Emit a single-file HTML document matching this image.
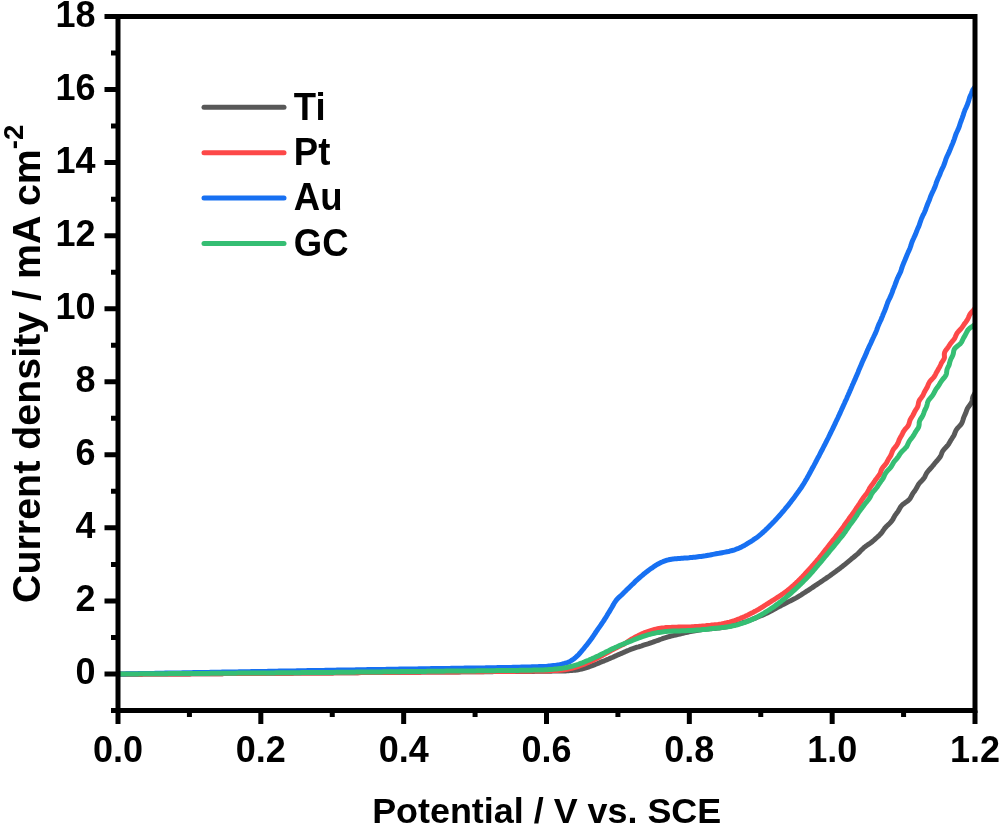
<!DOCTYPE html>
<html><head><meta charset="utf-8"><title>LSV plot</title>
<style>
html,body{margin:0;padding:0;background:#fff;}
body{width:1000px;height:830px;overflow:hidden;}
svg{display:block;}
text{font-family:"Liberation Sans",Arial,Helvetica,sans-serif;font-weight:bold;fill:#000;}
.t{font-size:36px;}
.c{fill:none;stroke-width:5;stroke-linecap:round;stroke-linejoin:round;}
.ax{stroke:#000;fill:none;}
</style></head><body>
<svg width="1000" height="830" viewBox="0 0 1000 830">
<rect width="1000" height="830" fill="#fff"/>

<defs><clipPath id="plot"><rect x="118.0" y="16.5" width="857.0" height="694.0"/></clipPath></defs>
<g class="c" clip-path="url(#plot)">
<path d="M118.0 674.3L118.8 674.3L119.6 674.3L120.5 674.3L121.3 674.3L122.3 674.3L123.3 674.3L124.3 674.3L125.3 674.3L126.4 674.2L127.5 674.2L128.6 674.2L129.8 674.2L131.0 674.2L132.3 674.2L133.5 674.2L134.8 674.2L136.1 674.2L137.5 674.2L138.9 674.2L140.3 674.2L141.7 674.2L143.1 674.1L144.6 674.1L146.1 674.1L147.6 674.1L149.2 674.1L150.7 674.1L152.3 674.1L153.9 674.1L155.5 674.1L157.1 674.1L158.7 674.1L160.4 674.0L162.1 674.0L163.7 674.0L165.4 674.0L167.1 674.0L168.8 674.0L170.6 674.0L172.3 674.0L174.0 674.0L175.8 673.9L177.5 673.9L179.3 673.9L181.0 673.9L182.8 673.9L184.5 673.9L186.3 673.9L188.1 673.9L189.8 673.9L191.6 673.8L193.4 673.8L195.1 673.8L196.9 673.8L198.6 673.8L200.4 673.8L202.1 673.8L203.9 673.8L205.6 673.8L207.3 673.7L209.0 673.7L210.7 673.7L212.4 673.7L214.1 673.7L215.7 673.7L217.4 673.7L219.0 673.7L220.6 673.7L222.3 673.7L223.8 673.6L225.4 673.6L227.0 673.6L228.5 673.6L230.0 673.6L231.5 673.6L233.0 673.6L234.6 673.6L236.1 673.6L237.6 673.5L239.1 673.5L240.7 673.5L242.2 673.5L243.7 673.5L245.3 673.5L246.8 673.5L248.3 673.5L249.8 673.5L251.4 673.5L252.9 673.4L254.4 673.4L256.0 673.4L257.5 673.4L259.0 673.4L260.6 673.4L262.1 673.4L263.6 673.4L265.1 673.4L266.7 673.3L268.2 673.3L269.7 673.3L271.3 673.3L272.8 673.3L274.3 673.3L275.8 673.3L277.4 673.3L278.9 673.3L280.4 673.2L281.9 673.2L283.5 673.2L285.0 673.2L286.5 673.2L288.0 673.2L289.5 673.2L291.1 673.2L292.6 673.2L294.1 673.1L295.6 673.1L297.1 673.1L298.6 673.1L300.1 673.1L301.6 673.1L303.1 673.1L304.6 673.1L306.1 673.1L307.6 673.0L309.1 673.0L310.6 673.0L312.1 673.0L313.6 673.0L315.1 673.0L316.6 673.0L318.1 673.0L319.6 673.0L321.0 672.9L322.5 672.9L324.0 672.9L325.5 672.9L326.9 672.9L328.4 672.9L329.9 672.9L331.3 672.9L332.8 672.9L334.2 672.8L335.7 672.8L337.1 672.8L338.6 672.8L340.0 672.8L341.6 672.8L343.2 672.8L344.8 672.8L346.4 672.8L348.0 672.7L349.6 672.7L351.2 672.7L352.8 672.7L354.5 672.7L356.1 672.7L357.7 672.7L359.3 672.6L361.0 672.6L362.6 672.6L364.2 672.6L365.8 672.6L367.5 672.6L369.1 672.6L370.7 672.6L372.3 672.5L373.9 672.5L375.6 672.5L377.2 672.5L378.8 672.5L380.4 672.5L382.0 672.5L383.6 672.5L385.2 672.4L386.8 672.4L388.4 672.4L390.0 672.4L391.6 672.4L393.1 672.4L394.7 672.4L396.3 672.3L397.8 672.3L399.4 672.3L400.9 672.3L402.4 672.3L404.0 672.3L405.5 672.3L407.0 672.3L408.5 672.2L410.0 672.2L411.5 672.2L413.0 672.2L414.4 672.2L415.9 672.2L417.3 672.2L418.8 672.2L420.2 672.2L421.6 672.1L423.0 672.1L424.4 672.1L425.8 672.1L427.1 672.1L428.5 672.1L429.8 672.1L431.1 672.1L432.4 672.1L433.7 672.0L435.0 672.0L436.3 672.0L437.5 672.0L438.8 672.0L440.0 672.0L442.0 672.0L443.9 672.0L445.8 672.0L447.7 671.9L449.6 671.9L451.4 671.9L453.1 671.9L454.9 671.9L456.6 671.9L458.3 671.9L459.9 671.9L461.6 671.8L463.2 671.8L464.8 671.8L466.3 671.8L467.8 671.8L469.3 671.8L470.8 671.8L472.3 671.8L473.8 671.8L475.2 671.8L476.6 671.8L478.0 671.7L479.4 671.7L480.7 671.7L482.1 671.7L483.4 671.7L484.7 671.7L486.0 671.7L487.3 671.7L488.6 671.7L489.9 671.7L491.2 671.7L492.5 671.7L493.7 671.6L495.0 671.6L496.2 671.6L497.5 671.6L498.7 671.6L500.0 671.6L501.9 671.6L503.8 671.6L505.6 671.6L507.5 671.5L509.2 671.5L511.0 671.5L512.7 671.5L514.4 671.5L516.1 671.5L517.8 671.5L519.4 671.5L520.9 671.5L522.5 671.4L524.0 671.4L525.5 671.4L527.0 671.4L528.4 671.4L529.8 671.4L531.2 671.4L532.5 671.4L533.9 671.4L535.1 671.3L536.4 671.3L537.6 671.3L538.8 671.3L540.0 671.3L542.2 671.3L544.3 671.3L546.2 671.2L548.0 671.2L549.6 671.2L551.1 671.2L552.6 671.1L553.9 671.1L555.2 671.1L556.5 671.1L557.7 671.1L558.8 671.0L560.0 671.0L562.2 670.9L564.1 670.9L565.6 670.9L567.0 670.8L568.4 670.7L570.0 670.6L571.7 670.5L573.3 670.3L575.0 670.2L576.7 670.0L578.3 669.7L580.0 669.4L581.7 669.0L583.3 668.6L585.0 668.1L586.7 667.6L588.3 667.1L590.0 666.5L591.4 666.0L592.9 665.4L594.3 664.9L595.7 664.3L597.1 663.7L598.6 663.1L600.0 662.5L601.4 661.9L602.9 661.3L604.3 660.8L605.7 660.2L607.1 659.6L608.6 659.0L610.0 658.4L611.4 657.8L612.9 657.2L614.3 656.5L615.7 655.9L617.1 655.3L618.6 654.6L620.0 654.0L621.4 653.4L622.9 652.7L624.3 652.1L625.7 651.5L627.1 650.9L628.6 650.3L630.0 649.7L631.4 649.2L632.9 648.7L634.3 648.2L635.7 647.7L637.1 647.2L638.6 646.8L640.0 646.3L641.7 645.8L643.5 645.2L645.2 644.7L647.0 644.2L648.6 643.7L650.0 643.2L651.6 642.6L652.9 642.2L654.2 641.7L656.0 641.0L657.2 640.6L658.6 640.1L660.1 639.5L661.6 639.0L663.2 638.4L664.9 637.9L666.5 637.4L668.0 636.9L669.5 636.5L671.0 636.1L672.5 635.7L674.0 635.4L675.5 635.0L677.0 634.7L678.5 634.3L680.0 634.0L681.5 633.6L683.0 633.3L684.5 632.9L686.0 632.6L687.5 632.3L689.0 631.9L690.5 631.6L692.0 631.3L693.5 631.0L695.0 630.7L696.5 630.5L698.0 630.2L699.5 629.9L701.0 629.7L702.5 629.5L704.0 629.3L705.5 629.1L707.0 629.0L708.4 628.9L709.9 628.8L711.4 628.7L712.9 628.6L714.4 628.5L716.0 628.3L717.5 628.1L719.0 627.9L720.5 627.7L722.0 627.5L723.6 627.2L725.2 626.9L726.8 626.7L728.4 626.3L730.0 626.0L731.5 625.7L733.0 625.3L734.5 625.0L736.0 624.6L737.6 624.2L739.1 623.8L740.6 623.3L742.1 622.9L743.6 622.4L745.0 622.0L746.5 621.5L748.1 620.9L749.6 620.4L751.1 619.8L752.5 619.2L753.9 618.7L755.3 618.1L756.7 617.5L758.0 617.0L759.6 616.3L761.1 615.7L762.6 615.1L764.0 614.5L765.4 613.8L766.8 613.2L768.2 612.5L769.6 611.8L771.0 611.1L772.4 610.3L773.7 609.6L775.1 608.8L776.4 608.0L777.8 607.3L779.2 606.6L780.6 605.9L782.0 605.1L783.3 604.4L784.7 603.7L786.1 603.0L787.5 602.3L788.9 601.6L790.2 600.9L791.6 600.2L793.0 599.5L794.4 598.8L795.7 598.1L797.1 597.3L798.5 596.5L799.9 595.6L801.3 594.8L802.6 593.9L804.0 593.0L805.4 592.1L806.8 591.2L808.2 590.3L809.6 589.4L810.9 588.5L812.3 587.6L813.7 586.6L815.0 585.7L816.4 584.8L817.8 583.9L819.1 583.0L820.5 582.1L821.9 581.2L823.2 580.3L824.6 579.3L826.0 578.4L827.4 577.4L828.8 576.5L830.2 575.5L831.5 574.5L832.9 573.5L834.3 572.5L835.7 571.5L836.9 570.6L838.1 569.7L839.3 568.8L840.5 567.9L841.7 566.9L842.9 566.0L844.1 565.1L845.3 564.1L846.5 563.1L847.7 562.1L848.9 561.1L850.1 560.1L851.3 559.1L852.6 558.1L853.9 557.0L855.1 556.0L856.4 554.9L857.7 553.8L858.9 552.7L860.0 551.5L861.0 550.4L862.1 549.4L863.1 548.4L864.0 547.5L865.5 546.4L866.8 545.5L868.0 544.7L869.2 543.9L870.5 543.0L871.8 542.0L873.1 540.9L874.3 539.9L875.6 538.7L876.9 537.5L878.1 536.4L879.3 535.3L880.5 534.1L881.5 532.9L882.4 531.7L883.2 530.5L884.0 529.4L884.7 528.3L885.7 527.2L886.8 526.0L888.1 524.8L889.5 523.5L890.7 522.3L891.8 520.9L892.8 519.6L893.5 518.1L894.3 516.7L895.1 515.3L896.1 514.0L897.0 512.7L898.0 511.4L898.8 510.2L899.4 508.9L900.1 507.7L900.8 506.6L901.7 505.5L903.1 504.2L904.7 503.1L906.2 502.0L907.8 500.9L909.3 499.5L910.2 498.4L910.9 497.1L911.6 495.8L912.3 494.4L913.1 493.1L914.1 491.8L915.0 490.5L915.9 489.1L916.7 487.8L917.4 486.4L918.1 485.1L918.9 483.8L920.0 482.5L921.3 481.2L922.7 479.8L923.8 478.4L924.7 477.1L925.3 475.8L925.9 474.5L926.6 473.1L927.5 471.8L928.6 470.5L929.8 469.2L931.1 467.8L932.2 466.6L933.2 465.3L934.2 464.1L935.2 462.8L936.3 461.5L937.5 460.2L938.6 458.9L939.6 457.7L940.4 456.5L941.0 455.2L941.5 453.9L942.0 452.5L942.6 451.2L943.6 449.9L944.7 448.6L946.0 447.2L947.3 445.8L948.4 444.5L949.2 443.1L950.0 441.8L950.7 440.4L951.6 439.1L952.4 437.8L953.3 436.4L954.1 435.0L954.7 433.5L955.2 432.2L955.8 430.8L956.7 429.3L957.8 427.9L959.2 426.4L960.5 425.0L961.6 423.5L962.3 422.0L962.8 420.5L963.2 419.1L963.7 417.6L964.3 416.1L965.0 414.7L965.7 413.1L966.2 411.6L966.8 410.0L967.4 408.6L968.2 407.2L969.3 405.7L970.4 404.2L971.4 402.6L972.0 401.1L972.3 399.7L972.5 398.3L972.8 397.1L973.2 396.1L974.6 393.6L975.6 392.0L976.2 391.0" stroke="#585858"/>
<path d="M118.0 674.3L118.8 674.3L119.6 674.3L120.5 674.3L121.3 674.3L122.3 674.3L123.3 674.3L124.3 674.3L125.3 674.3L126.4 674.2L127.5 674.2L128.6 674.2L129.8 674.2L131.0 674.2L132.3 674.2L133.5 674.2L134.8 674.2L136.1 674.2L137.5 674.2L138.9 674.2L140.3 674.2L141.7 674.2L143.1 674.1L144.6 674.1L146.1 674.1L147.6 674.1L149.2 674.1L150.7 674.1L152.3 674.1L153.9 674.1L155.5 674.1L157.1 674.1L158.7 674.1L160.4 674.0L162.1 674.0L163.7 674.0L165.4 674.0L167.1 674.0L168.8 674.0L170.6 674.0L172.3 674.0L174.0 674.0L175.8 673.9L177.5 673.9L179.3 673.9L181.0 673.9L182.8 673.9L184.5 673.9L186.3 673.9L188.1 673.9L189.8 673.9L191.6 673.8L193.4 673.8L195.1 673.8L196.9 673.8L198.6 673.8L200.4 673.8L202.1 673.8L203.9 673.8L205.6 673.8L207.3 673.7L209.0 673.7L210.7 673.7L212.4 673.7L214.1 673.7L215.7 673.7L217.4 673.7L219.0 673.7L220.6 673.7L222.3 673.7L223.8 673.6L225.4 673.6L227.0 673.6L228.5 673.6L230.0 673.6L231.5 673.6L233.0 673.6L234.6 673.6L236.1 673.6L237.6 673.5L239.1 673.5L240.7 673.5L242.2 673.5L243.7 673.5L245.3 673.5L246.8 673.5L248.3 673.5L249.8 673.5L251.4 673.5L252.9 673.4L254.4 673.4L256.0 673.4L257.5 673.4L259.0 673.4L260.6 673.4L262.1 673.4L263.6 673.4L265.1 673.4L266.7 673.3L268.2 673.3L269.7 673.3L271.3 673.3L272.8 673.3L274.3 673.3L275.8 673.3L277.4 673.3L278.9 673.3L280.4 673.2L281.9 673.2L283.5 673.2L285.0 673.2L286.5 673.2L288.0 673.2L289.5 673.2L291.1 673.2L292.6 673.2L294.1 673.1L295.6 673.1L297.1 673.1L298.6 673.1L300.1 673.1L301.6 673.1L303.1 673.1L304.6 673.1L306.1 673.1L307.6 673.0L309.1 673.0L310.6 673.0L312.1 673.0L313.6 673.0L315.1 673.0L316.6 673.0L318.1 673.0L319.6 673.0L321.0 672.9L322.5 672.9L324.0 672.9L325.5 672.9L326.9 672.9L328.4 672.9L329.9 672.9L331.3 672.9L332.8 672.9L334.2 672.8L335.7 672.8L337.1 672.8L338.6 672.8L340.0 672.8L341.6 672.8L343.2 672.8L344.8 672.8L346.4 672.8L348.0 672.7L349.6 672.7L351.2 672.7L352.8 672.7L354.5 672.7L356.1 672.7L357.7 672.7L359.3 672.7L361.0 672.6L362.6 672.6L364.2 672.6L365.8 672.6L367.5 672.6L369.1 672.6L370.7 672.6L372.3 672.5L373.9 672.5L375.6 672.5L377.2 672.5L378.8 672.5L380.4 672.5L382.0 672.5L383.6 672.5L385.2 672.4L386.8 672.4L388.4 672.4L390.0 672.4L391.6 672.4L393.1 672.4L394.7 672.4L396.3 672.4L397.8 672.3L399.4 672.3L400.9 672.3L402.4 672.3L404.0 672.3L405.5 672.3L407.0 672.3L408.5 672.3L410.0 672.2L411.5 672.2L413.0 672.2L414.4 672.2L415.9 672.2L417.3 672.2L418.8 672.2L420.2 672.2L421.6 672.1L423.0 672.1L424.4 672.1L425.8 672.1L427.1 672.1L428.5 672.1L429.8 672.1L431.1 672.1L432.4 672.1L433.7 672.1L435.0 672.0L436.3 672.0L437.5 672.0L438.8 672.0L440.0 672.0L442.0 672.0L443.9 672.0L445.8 672.0L447.7 671.9L449.6 671.9L451.4 671.9L453.1 671.9L454.9 671.9L456.6 671.9L458.3 671.9L459.9 671.8L461.6 671.8L463.2 671.8L464.8 671.8L466.3 671.8L467.8 671.8L469.3 671.8L470.8 671.8L472.3 671.7L473.8 671.7L475.2 671.7L476.6 671.7L478.0 671.7L479.4 671.7L480.7 671.7L482.1 671.7L483.4 671.7L484.7 671.6L486.0 671.6L487.3 671.6L488.6 671.6L489.9 671.6L491.2 671.6L492.5 671.6L493.7 671.6L495.0 671.5L496.2 671.5L497.5 671.5L498.7 671.5L500.0 671.5L501.9 671.5L503.8 671.5L505.6 671.4L507.5 671.4L509.2 671.4L511.0 671.4L512.7 671.4L514.4 671.4L516.1 671.3L517.8 671.3L519.4 671.3L520.9 671.3L522.5 671.3L524.0 671.3L525.5 671.2L527.0 671.2L528.4 671.2L529.8 671.2L531.2 671.2L532.5 671.1L533.9 671.1L535.1 671.1L536.4 671.1L537.6 671.0L538.8 671.0L540.0 671.0L542.2 671.0L544.3 670.9L546.2 670.9L548.0 670.8L549.6 670.8L551.1 670.7L552.6 670.6L553.9 670.6L555.2 670.5L556.5 670.4L557.7 670.4L558.8 670.3L560.0 670.2L562.2 670.0L564.1 669.8L565.6 669.5L567.0 669.3L568.4 669.0L570.0 668.6L571.7 668.2L573.3 667.8L575.0 667.3L576.7 666.8L578.3 666.3L580.0 665.7L581.4 665.2L582.9 664.7L584.3 664.1L585.7 663.5L587.1 662.9L588.6 662.3L590.0 661.7L591.4 661.0L592.9 660.4L594.3 659.7L595.7 658.9L597.1 658.2L598.6 657.4L600.0 656.7L601.4 655.9L602.9 655.2L604.3 654.4L605.7 653.6L607.1 652.8L608.6 652.0L610.0 651.2L611.5 650.4L613.0 649.6L614.5 648.8L616.0 648.1L617.4 647.3L618.8 646.6L620.0 646.0L621.8 645.1L623.2 644.4L624.6 643.7L626.0 642.9L627.5 641.9L629.0 640.9L630.5 639.9L632.0 638.9L633.5 638.1L635.0 637.3L636.5 636.5L638.0 635.8L639.5 635.0L641.0 634.3L642.5 633.6L644.0 632.9L645.5 632.3L647.0 631.8L648.5 631.3L650.0 630.8L651.5 630.3L653.0 629.9L654.5 629.5L656.0 629.1L657.5 628.8L659.0 628.5L660.5 628.3L662.0 628.1L663.4 627.9L664.6 627.8L666.1 627.6L668.0 627.5L669.2 627.4L670.6 627.4L672.1 627.3L673.6 627.3L675.2 627.2L676.9 627.2L678.5 627.1L680.0 627.1L681.5 627.1L683.0 627.0L684.5 627.0L686.0 627.0L687.5 627.0L689.0 626.9L690.5 626.9L692.0 626.8L693.5 626.7L695.0 626.6L696.5 626.5L698.0 626.4L699.5 626.3L701.0 626.2L702.5 626.0L704.0 625.9L705.6 625.8L707.2 625.6L708.9 625.4L710.5 625.3L712.1 625.1L713.6 625.0L714.9 624.8L716.0 624.7L718.1 624.5L720.0 624.1L721.3 623.9L722.8 623.6L724.4 623.3L726.2 622.9L727.9 622.5L729.6 622.1L731.2 621.6L732.8 621.1L734.5 620.6L736.1 620.0L737.7 619.4L739.3 618.8L740.7 618.2L742.0 617.7L743.4 617.1L744.8 616.5L746.2 615.8L747.5 615.2L748.9 614.5L750.3 613.8L751.7 613.1L753.1 612.4L754.4 611.6L755.8 610.9L757.2 610.1L758.6 609.3L760.0 608.5L761.4 607.6L762.7 606.8L764.1 605.9L765.5 605.0L766.8 604.2L768.2 603.3L769.6 602.4L770.9 601.6L772.3 600.7L773.7 599.9L775.0 599.0L776.4 598.1L777.8 597.2L779.2 596.3L780.6 595.4L781.9 594.4L783.3 593.5L784.7 592.5L786.1 591.5L787.5 590.4L788.7 589.4L790.0 588.4L791.2 587.3L792.5 586.2L793.8 585.1L795.1 583.9L796.3 582.7L797.6 581.5L798.7 580.4L799.9 579.3L801.0 578.1L802.2 576.9L803.3 575.7L804.5 574.5L805.6 573.3L806.8 572.0L807.9 570.8L808.9 569.7L810.0 568.5L811.0 567.4L812.0 566.2L813.1 565.0L814.1 563.8L815.1 562.6L816.2 561.4L817.2 560.2L818.2 559.0L819.2 557.8L820.2 556.5L821.2 555.3L822.2 554.1L823.2 552.8L824.2 551.5L825.1 550.3L826.1 549.0L827.1 547.8L828.1 546.5L829.1 545.2L830.2 543.9L831.2 542.5L832.3 541.2L833.3 539.8L834.4 538.5L835.4 537.3L836.3 536.1L837.1 535.0L837.9 534.0L839.4 532.1L840.4 530.8L841.3 529.6L842.3 528.2L843.1 527.1L844.0 525.9L844.8 524.6L845.8 523.3L846.7 522.0L847.7 520.6L848.6 519.3L849.5 518.0L850.5 516.6L851.6 515.2L852.6 513.8L853.7 512.4L854.6 511.0L855.5 509.7L856.3 508.4L857.1 507.1L858.0 505.8L858.8 504.6L859.7 503.3L860.5 502.0L861.4 500.7L862.2 499.4L863.1 498.1L864.1 496.8L865.1 495.5L866.2 494.3L867.1 493.0L867.8 491.7L868.5 490.5L869.1 489.3L869.8 488.0L870.6 486.8L871.5 485.6L872.5 484.3L873.4 483.0L874.3 481.8L875.1 480.5L876.0 479.2L877.0 477.9L878.0 476.6L879.0 475.3L879.9 473.9L880.5 472.6L880.9 471.2L881.4 469.8L882.2 468.4L883.2 466.9L884.5 465.5L885.5 464.2L886.4 463.0L887.1 461.7L887.8 460.4L888.5 459.1L889.3 457.8L890.2 456.5L890.9 455.2L891.5 453.7L892.0 452.3L892.6 450.9L893.4 449.4L894.5 448.0L895.8 446.5L896.9 445.0L897.7 443.6L898.3 442.3L898.8 440.9L899.3 439.4L900.1 438.0L900.9 436.6L901.7 435.2L902.4 433.8L903.0 432.4L903.8 431.1L904.8 429.7L905.9 428.4L907.1 427.1L908.1 425.7L908.8 424.4L909.2 423.0L909.6 421.6L910.0 420.2L910.7 418.8L911.6 417.4L912.5 416.0L913.3 414.6L914.0 413.2L914.6 411.8L915.4 410.4L916.3 409.0L917.2 407.6L917.8 406.2L918.2 404.8L918.4 403.3L918.7 401.9L919.3 400.5L920.3 399.0L921.4 397.6L922.5 396.1L923.3 394.6L923.9 393.1L924.6 391.7L925.4 390.2L926.2 388.9L927.1 387.4L927.7 386.1L928.2 384.7L928.8 383.4L929.5 382.1L930.5 380.8L931.7 379.5L933.0 378.1L934.1 376.8L935.0 375.4L935.7 374.1L936.3 372.7L937.1 371.4L937.9 370.0L938.7 368.6L939.5 367.2L940.2 365.8L940.8 364.5L941.4 363.1L942.2 361.8L943.1 360.5L944.1 358.8L944.5 357.3L944.4 355.8L944.3 354.2L944.6 352.5L945.2 351.2L946.1 349.9L947.2 348.5L948.2 347.1L949.2 345.6L950.2 344.1L951.4 342.5L952.4 341.2L953.6 339.9L954.6 338.5L955.3 337.0L955.9 335.6L956.5 334.2L957.3 332.8L958.4 331.5L959.6 330.2L961.0 328.7L962.2 327.2L963.1 325.9L964.0 324.5L964.9 323.2L965.9 321.9L966.9 320.5L967.8 319.0L968.5 317.5L969.1 316.0L969.8 314.5L970.9 313.0L972.1 311.7L973.2 310.5L974.7 308.7L975.6 307.1L976.1 305.9L976.5 305.0" stroke="#fd4848"/>
<path d="M118.0 674.0L118.8 674.0L119.6 674.0L120.5 674.0L121.3 673.9L122.3 673.9L123.3 673.9L124.3 673.9L125.3 673.9L126.4 673.8L127.5 673.8L128.6 673.8L129.8 673.8L131.0 673.8L132.3 673.7L133.5 673.7L134.8 673.7L136.1 673.7L137.5 673.7L138.9 673.6L140.3 673.6L141.7 673.6L143.1 673.5L144.6 673.5L146.1 673.5L147.6 673.5L149.2 673.4L150.7 673.4L152.3 673.4L153.9 673.4L155.5 673.3L157.1 673.3L158.7 673.3L160.4 673.2L162.1 673.2L163.7 673.2L165.4 673.1L167.1 673.1L168.8 673.1L170.6 673.1L172.3 673.0L174.0 673.0L175.8 673.0L177.5 672.9L179.3 672.9L181.0 672.9L182.8 672.8L184.5 672.8L186.3 672.8L188.1 672.7L189.8 672.7L191.6 672.7L193.4 672.6L195.1 672.6L196.9 672.6L198.6 672.6L200.4 672.5L202.1 672.5L203.9 672.5L205.6 672.4L207.3 672.4L209.0 672.4L210.7 672.3L212.4 672.3L214.1 672.3L215.7 672.3L217.4 672.2L219.0 672.2L220.6 672.2L222.3 672.1L223.8 672.1L225.4 672.1L227.0 672.1L228.5 672.0L230.0 672.0L231.5 672.0L233.0 671.9L234.6 671.9L236.1 671.9L237.6 671.9L239.1 671.8L240.7 671.8L242.2 671.8L243.7 671.8L245.3 671.7L246.8 671.7L248.3 671.7L249.8 671.7L251.4 671.6L252.9 671.6L254.4 671.6L256.0 671.5L257.5 671.5L259.0 671.5L260.6 671.5L262.1 671.4L263.6 671.4L265.1 671.4L266.7 671.4L268.2 671.3L269.7 671.3L271.3 671.3L272.8 671.3L274.3 671.2L275.8 671.2L277.4 671.2L278.9 671.1L280.4 671.1L281.9 671.1L283.5 671.1L285.0 671.0L286.5 671.0L288.0 671.0L289.5 671.0L291.1 670.9L292.6 670.9L294.1 670.9L295.6 670.9L297.1 670.8L298.6 670.8L300.1 670.8L301.6 670.8L303.1 670.7L304.6 670.7L306.1 670.7L307.6 670.6L309.1 670.6L310.6 670.6L312.1 670.6L313.6 670.5L315.1 670.5L316.6 670.5L318.1 670.5L319.6 670.4L321.0 670.4L322.5 670.4L324.0 670.4L325.5 670.3L326.9 670.3L328.4 670.3L329.9 670.3L331.3 670.2L332.8 670.2L334.2 670.2L335.7 670.2L337.1 670.1L338.6 670.1L340.0 670.1L341.6 670.1L343.2 670.0L344.8 670.0L346.4 670.0L348.0 670.0L349.6 669.9L351.2 669.9L352.8 669.9L354.5 669.9L356.1 669.8L357.7 669.8L359.3 669.8L361.0 669.8L362.6 669.7L364.2 669.7L365.8 669.7L367.5 669.6L369.1 669.6L370.7 669.6L372.3 669.6L373.9 669.5L375.6 669.5L377.2 669.5L378.8 669.5L380.4 669.4L382.0 669.4L383.6 669.4L385.2 669.4L386.8 669.3L388.4 669.3L390.0 669.3L391.6 669.3L393.1 669.2L394.7 669.2L396.3 669.2L397.8 669.2L399.4 669.1L400.9 669.1L402.4 669.1L404.0 669.1L405.5 669.0L407.0 669.0L408.5 669.0L410.0 669.0L411.5 668.9L413.0 668.9L414.4 668.9L415.9 668.9L417.3 668.9L418.8 668.8L420.2 668.8L421.6 668.8L423.0 668.8L424.4 668.7L425.8 668.7L427.1 668.7L428.5 668.7L429.8 668.7L431.1 668.6L432.4 668.6L433.7 668.6L435.0 668.6L436.3 668.6L437.5 668.5L438.8 668.5L440.0 668.5L442.0 668.5L443.9 668.4L445.8 668.4L447.7 668.4L449.6 668.4L451.4 668.3L453.1 668.3L454.9 668.3L456.6 668.3L458.3 668.2L459.9 668.2L461.6 668.2L463.2 668.2L464.8 668.1L466.3 668.1L467.8 668.1L469.3 668.1L470.8 668.1L472.3 668.0L473.8 668.0L475.2 668.0L476.6 668.0L478.0 668.0L479.4 667.9L480.7 667.9L482.1 667.9L483.4 667.9L484.7 667.9L486.0 667.8L487.3 667.8L488.6 667.8L489.9 667.8L491.2 667.8L492.5 667.7L493.7 667.7L495.0 667.7L496.2 667.7L497.5 667.6L498.7 667.6L500.0 667.6L501.9 667.6L503.8 667.5L505.7 667.5L507.6 667.4L509.4 667.4L511.2 667.4L513.0 667.3L514.8 667.3L516.5 667.2L518.2 667.2L519.9 667.2L521.5 667.1L523.1 667.1L524.7 667.0L526.2 667.0L527.7 667.0L529.2 666.9L530.6 666.9L531.9 666.8L533.2 666.8L534.5 666.8L535.7 666.7L536.9 666.7L538.0 666.7L539.0 666.6L540.0 666.6L543.4 666.5L545.6 666.4L546.9 666.3L547.8 666.2L548.7 666.1L550.0 666.0L551.7 665.8L553.5 665.6L555.2 665.4L557.0 665.1L558.6 664.9L560.0 664.6L561.8 664.2L563.4 663.8L564.7 663.4L566.0 663.0L568.1 662.3L570.0 661.4L571.2 660.7L572.4 659.9L573.7 659.0L575.0 658.0L576.2 656.9L577.5 655.7L578.8 654.4L580.0 653.0L581.0 651.9L582.0 650.7L583.0 649.5L584.0 648.3L585.0 647.0L586.1 645.7L587.1 644.4L588.2 643.0L589.3 641.6L590.5 640.0L591.4 638.8L592.3 637.5L593.2 636.2L594.1 634.8L595.1 633.4L596.0 631.9L597.0 630.5L597.9 629.2L598.8 627.9L599.7 626.6L600.6 625.3L601.5 624.0L602.4 622.7L603.3 621.4L604.1 620.1L605.0 618.7L605.9 617.3L606.7 616.0L607.5 614.6L608.3 613.3L609.2 611.9L610.0 610.5L610.9 609.0L611.8 607.5L612.7 605.9L613.6 604.4L614.4 602.9L615.3 601.6L616.1 600.4L617.4 598.8L618.6 597.7L619.7 596.7L621.0 595.5L622.1 594.4L623.3 593.2L624.5 592.0L625.8 590.8L627.0 589.6L628.2 588.4L629.4 587.3L630.5 586.2L631.7 585.0L633.0 583.8L634.1 582.8L635.1 581.7L636.2 580.7L637.4 579.6L638.6 578.5L640.0 577.3L641.1 576.4L642.3 575.4L643.5 574.3L644.8 573.3L646.1 572.2L647.4 571.2L648.7 570.2L650.0 569.3L651.4 568.3L652.9 567.3L654.3 566.3L655.7 565.4L657.1 564.5L658.6 563.7L660.0 563.0L661.4 562.3L662.9 561.7L664.3 561.2L665.7 560.7L667.1 560.2L668.6 559.8L670.0 559.5L671.6 559.2L673.3 558.9L674.9 558.8L676.5 558.7L678.2 558.5L680.0 558.4L681.4 558.3L682.9 558.2L684.4 558.1L685.9 558.0L687.4 557.9L689.0 557.8L690.5 557.6L692.0 557.5L693.5 557.3L695.0 557.2L696.5 557.0L698.0 556.8L699.5 556.6L701.0 556.4L702.5 556.2L704.0 556.0L705.5 555.8L707.0 555.5L708.4 555.2L709.9 555.0L711.4 554.7L712.9 554.4L714.4 554.1L716.0 553.8L717.5 553.5L719.0 553.3L720.6 553.0L722.1 552.7L723.7 552.4L725.3 552.1L726.8 551.8L728.3 551.5L729.6 551.2L731.4 550.7L733.1 550.3L734.7 549.8L736.2 549.2L737.7 548.7L739.3 548.0L740.7 547.4L742.0 546.7L743.4 545.9L744.8 545.2L746.2 544.4L747.5 543.5L748.9 542.7L750.3 541.8L751.7 541.0L753.1 540.1L754.4 539.1L755.8 538.2L757.2 537.2L758.6 536.1L759.8 535.1L761.0 534.1L762.2 533.0L763.4 532.0L764.6 530.9L765.8 529.7L767.0 528.6L768.2 527.4L769.3 526.4L770.3 525.3L771.4 524.2L772.5 523.1L773.5 522.0L774.6 520.9L775.7 519.7L776.7 518.6L777.8 517.4L778.9 516.2L780.0 515.0L781.0 513.8L782.1 512.5L783.2 511.3L784.3 510.0L785.3 508.7L786.4 507.4L787.5 506.1L788.5 504.9L789.5 503.6L790.4 502.4L791.4 501.1L792.4 499.8L793.4 498.5L794.4 497.2L795.3 495.9L796.2 494.6L797.1 493.4L798.0 492.1L798.9 491.0L799.6 489.9L800.4 488.8L801.2 487.7L802.0 486.5L802.8 485.1L803.8 483.6L804.8 481.9L805.4 480.8L806.1 479.7L806.8 478.5L807.5 477.2L808.2 475.9L809.0 474.5L809.7 473.2L810.5 471.7L811.3 470.3L812.1 468.8L812.9 467.3L813.7 465.9L814.5 464.4L815.3 462.9L816.0 461.4L816.8 460.0L817.5 458.6L818.2 457.3L819.0 455.9L819.7 454.5L820.4 453.1L821.1 451.7L821.9 450.3L822.6 448.9L823.3 447.5L824.0 446.1L824.8 444.7L825.5 443.2L826.2 441.8L826.9 440.4L827.7 438.9L828.4 437.5L829.1 436.0L829.8 434.6L830.5 433.2L831.1 431.9L831.8 430.5L832.5 429.1L833.2 427.7L833.8 426.3L834.5 424.9L835.2 423.4L835.8 422.0L836.5 420.6L837.2 419.2L837.9 417.7L838.5 416.3L839.2 414.9L839.9 413.4L840.5 412.0L841.2 410.5L841.8 409.1L842.5 407.7L843.1 406.3L843.7 404.9L844.4 403.5L845.0 402.1L845.6 400.7L846.3 399.3L846.9 397.9L847.5 396.4L848.2 395.0L848.8 393.6L849.4 392.2L850.0 390.7L850.7 389.3L851.3 387.8L851.9 386.4L852.5 384.9L853.2 383.5L853.8 382.1L854.4 380.7L855.0 379.4L855.6 378.0L856.2 376.6L856.8 375.2L857.4 373.8L858.0 372.4L858.5 371.0L859.1 369.6L859.7 368.2L860.3 366.8L860.9 365.4L861.5 364.0L862.1 362.6L862.7 361.1L863.4 359.7L864.0 358.3L864.7 356.9L865.3 355.5L865.9 354.1L866.5 352.8L867.0 351.4L867.5 350.1L868.1 348.9L868.7 347.6L869.3 346.3L869.9 345.0L870.5 343.8L871.1 342.5L871.7 341.1L872.3 339.8L872.9 338.4L873.6 337.0L874.3 335.5L875.1 333.9L875.8 332.3L876.5 330.6L877.1 328.9L877.8 327.0L878.2 325.9L878.7 324.7L879.2 323.5L879.8 322.3L880.4 321.0L881.0 319.8L881.5 318.5L882.1 317.1L882.6 315.8L883.1 314.4L883.7 313.1L884.3 311.7L884.9 310.2L885.5 308.8L886.0 307.4L886.5 305.9L887.0 304.5L887.5 303.0L888.1 301.5L888.8 300.0L889.5 298.6L890.2 297.1L890.9 295.6L891.5 294.1L892.1 292.6L892.6 291.1L893.1 289.6L893.7 288.2L894.3 286.7L894.9 285.2L895.4 283.8L896.0 282.3L896.5 280.9L897.0 279.5L897.6 278.1L898.3 276.7L898.9 275.3L899.6 273.9L900.3 272.5L900.9 271.0L901.3 269.6L901.8 268.2L902.2 266.8L902.7 265.4L903.3 264.0L903.9 262.6L904.5 261.1L905.1 259.7L905.7 258.3L906.2 256.9L906.8 255.5L907.4 254.1L908.0 252.6L908.7 251.2L909.3 249.8L909.9 248.4L910.4 247.0L910.9 245.6L911.3 244.1L911.8 242.7L912.3 241.3L912.9 239.9L913.6 238.5L914.2 237.1L914.9 235.7L915.5 234.3L916.0 232.9L916.6 231.5L917.1 230.1L917.7 228.6L918.4 227.2L919.0 225.7L919.5 224.3L920.0 222.8L920.5 221.4L921.0 220.0L921.5 218.5L922.2 217.1L922.8 215.6L923.6 214.2L924.3 212.7L924.9 211.3L925.5 209.9L926.0 208.4L926.5 207.0L927.1 205.6L927.6 204.1L928.2 202.7L928.8 201.3L929.4 199.9L929.9 198.5L930.4 197.0L931.0 195.6L931.6 194.2L932.2 192.8L932.9 191.4L933.6 190.0L934.2 188.6L934.8 187.3L935.3 185.9L935.8 184.5L936.2 183.0L936.8 181.5L937.4 180.1L938.0 178.5L938.7 177.0L939.4 175.5L940.0 174.0L940.6 172.4L941.2 170.9L941.9 169.4L942.6 167.9L943.4 166.3L944.0 164.8L944.6 163.3L945.1 161.8L945.5 160.3L946.0 158.9L946.6 157.4L947.2 156.0L947.9 154.6L948.6 153.2L949.2 151.8L949.7 150.5L950.3 149.2L950.8 147.9L951.3 146.6L951.8 145.4L952.3 144.3L952.8 143.1L953.2 142.0L953.6 141.0L954.4 138.8L955.0 136.9L955.6 135.1L956.2 133.5L956.9 132.0L957.5 130.7L958.1 129.4L958.6 128.2L959.1 127.0L959.5 125.9L959.8 124.7L960.2 123.5L960.6 122.3L961.1 121.0L961.7 119.4L962.3 117.8L962.8 116.2L963.4 114.7L963.8 113.1L964.4 111.6L964.9 110.0L965.6 108.6L966.3 107.1L966.9 105.7L967.5 104.3L967.9 103.0L968.5 101.3L969.0 99.6L969.5 97.9L970.1 96.3L970.8 94.8L971.4 93.4L971.9 92.1L972.4 91.0L972.8 90.0L974.4 87.7L975.2 87.0" stroke="#1770f2"/>
<path d="M118.0 674.0L118.8 674.0L119.6 674.0L120.5 674.0L121.3 674.0L122.3 674.0L123.3 674.0L124.3 674.0L125.3 673.9L126.4 673.9L127.5 673.9L128.6 673.9L129.8 673.9L131.0 673.9L132.3 673.9L133.5 673.9L134.8 673.9L136.1 673.9L137.5 673.9L138.9 673.9L140.3 673.8L141.7 673.8L143.1 673.8L144.6 673.8L146.1 673.8L147.6 673.8L149.2 673.8L150.7 673.8L152.3 673.8L153.9 673.7L155.5 673.7L157.1 673.7L158.7 673.7L160.4 673.7L162.1 673.7L163.7 673.7L165.4 673.7L167.1 673.7L168.8 673.6L170.6 673.6L172.3 673.6L174.0 673.6L175.8 673.6L177.5 673.6L179.3 673.6L181.0 673.6L182.8 673.5L184.5 673.5L186.3 673.5L188.1 673.5L189.8 673.5L191.6 673.5L193.4 673.5L195.1 673.5L196.9 673.4L198.6 673.4L200.4 673.4L202.1 673.4L203.9 673.4L205.6 673.4L207.3 673.4L209.0 673.4L210.7 673.3L212.4 673.3L214.1 673.3L215.7 673.3L217.4 673.3L219.0 673.3L220.6 673.3L222.3 673.3L223.8 673.2L225.4 673.2L227.0 673.2L228.5 673.2L230.0 673.2L231.5 673.2L233.0 673.2L234.6 673.2L236.1 673.2L237.6 673.1L239.1 673.1L240.7 673.1L242.2 673.1L243.7 673.1L245.3 673.1L246.8 673.1L248.3 673.1L249.8 673.0L251.4 673.0L252.9 673.0L254.4 673.0L256.0 673.0L257.5 673.0L259.0 673.0L260.6 673.0L262.1 673.0L263.6 672.9L265.1 672.9L266.7 672.9L268.2 672.9L269.7 672.9L271.3 672.9L272.8 672.9L274.3 672.9L275.8 672.8L277.4 672.8L278.9 672.8L280.4 672.8L281.9 672.8L283.5 672.8L285.0 672.8L286.5 672.8L288.0 672.8L289.5 672.7L291.1 672.7L292.6 672.7L294.1 672.7L295.6 672.7L297.1 672.7L298.6 672.7L300.1 672.7L301.6 672.6L303.1 672.6L304.6 672.6L306.1 672.6L307.6 672.6L309.1 672.6L310.6 672.6L312.1 672.6L313.6 672.5L315.1 672.5L316.6 672.5L318.1 672.5L319.6 672.5L321.0 672.5L322.5 672.5L324.0 672.4L325.5 672.4L326.9 672.4L328.4 672.4L329.9 672.4L331.3 672.4L332.8 672.4L334.2 672.4L335.7 672.3L337.1 672.3L338.6 672.3L340.0 672.3L341.6 672.3L343.2 672.3L344.8 672.3L346.4 672.2L348.0 672.2L349.6 672.2L351.2 672.2L352.8 672.2L354.5 672.2L356.1 672.1L357.7 672.1L359.3 672.1L361.0 672.1L362.6 672.1L364.2 672.1L365.8 672.0L367.5 672.0L369.1 672.0L370.7 672.0L372.3 672.0L373.9 671.9L375.6 671.9L377.2 671.9L378.8 671.9L380.4 671.9L382.0 671.9L383.6 671.8L385.2 671.8L386.8 671.8L388.4 671.8L390.0 671.8L391.6 671.7L393.1 671.7L394.7 671.7L396.3 671.7L397.8 671.7L399.4 671.7L400.9 671.6L402.4 671.6L404.0 671.6L405.5 671.6L407.0 671.6L408.5 671.6L410.0 671.5L411.5 671.5L413.0 671.5L414.4 671.5L415.9 671.5L417.3 671.5L418.8 671.4L420.2 671.4L421.6 671.4L423.0 671.4L424.4 671.4L425.8 671.4L427.1 671.3L428.5 671.3L429.8 671.3L431.1 671.3L432.4 671.3L433.7 671.3L435.0 671.3L436.3 671.2L437.5 671.2L438.8 671.2L440.0 671.2L442.0 671.2L443.9 671.2L445.8 671.1L447.7 671.1L449.6 671.1L451.4 671.1L453.1 671.1L454.9 671.0L456.6 671.0L458.3 671.0L459.9 671.0L461.6 671.0L463.2 671.0L464.8 671.0L466.3 670.9L467.8 670.9L469.3 670.9L470.8 670.9L472.3 670.9L473.8 670.9L475.2 670.9L476.6 670.8L478.0 670.8L479.4 670.8L480.7 670.8L482.1 670.8L483.4 670.8L484.7 670.8L486.0 670.8L487.3 670.7L488.6 670.7L489.9 670.7L491.2 670.7L492.5 670.7L493.7 670.7L495.0 670.7L496.2 670.6L497.5 670.6L498.7 670.6L500.0 670.6L501.9 670.6L503.8 670.6L505.7 670.5L507.6 670.5L509.4 670.5L511.2 670.5L513.0 670.4L514.8 670.4L516.5 670.4L518.2 670.4L519.9 670.3L521.5 670.3L523.1 670.3L524.7 670.3L526.2 670.2L527.7 670.2L529.2 670.2L530.6 670.2L531.9 670.2L533.2 670.1L534.5 670.1L535.7 670.1L536.9 670.1L538.0 670.0L539.0 670.0L540.0 670.0L543.4 669.9L545.6 669.8L546.9 669.8L547.8 669.7L548.7 669.6L550.0 669.5L551.7 669.4L553.3 669.3L555.0 669.1L556.7 669.0L558.3 668.8L560.0 668.6L561.7 668.4L563.3 668.1L565.0 667.8L566.7 667.5L568.3 667.1L570.0 666.7L571.7 666.3L573.3 665.8L575.0 665.3L576.7 664.8L578.3 664.3L580.0 663.7L581.4 663.2L582.9 662.6L584.3 662.0L585.7 661.4L587.1 660.8L588.6 660.2L590.0 659.6L591.4 659.0L592.9 658.3L594.3 657.7L595.7 657.0L597.1 656.4L598.6 655.7L600.0 655.0L601.4 654.3L602.9 653.6L604.3 652.9L605.7 652.1L607.1 651.4L608.6 650.7L610.0 650.0L611.4 649.3L612.9 648.6L614.3 648.0L615.7 647.3L617.1 646.7L618.6 646.0L620.0 645.4L621.5 644.8L622.9 644.2L624.4 643.6L625.9 643.0L627.4 642.4L628.7 641.9L630.0 641.4L631.6 640.8L633.0 640.2L634.3 639.6L635.6 639.1L637.0 638.6L638.8 637.9L640.6 637.3L642.3 636.7L644.0 636.1L645.6 635.6L647.1 635.1L648.5 634.7L650.0 634.3L651.5 633.9L653.0 633.5L654.5 633.2L656.0 632.9L657.5 632.6L659.0 632.4L660.5 632.2L662.0 632.0L663.4 631.8L664.6 631.6L666.1 631.4L668.0 631.3L669.2 631.2L670.6 631.2L672.1 631.1L673.6 631.1L675.2 631.0L676.9 631.0L678.5 631.0L680.0 630.9L681.5 630.8L683.0 630.8L684.5 630.7L686.0 630.7L687.5 630.6L689.0 630.6L690.5 630.5L692.0 630.4L693.5 630.3L695.0 630.2L696.5 630.1L698.0 630.0L699.5 629.9L701.0 629.8L702.5 629.6L704.0 629.5L705.6 629.4L707.2 629.2L708.9 629.0L710.5 628.8L712.1 628.6L713.6 628.5L714.9 628.3L716.0 628.2L718.1 628.0L720.0 627.8L721.3 627.6L722.8 627.5L724.4 627.3L726.2 627.0L727.9 626.8L729.6 626.5L731.2 626.2L732.8 625.8L734.5 625.5L736.1 625.1L737.7 624.7L739.3 624.2L740.9 623.7L742.5 623.2L744.1 622.7L745.7 622.1L747.3 621.5L748.9 620.9L750.3 620.3L751.7 619.7L753.1 619.0L754.4 618.4L755.8 617.7L757.2 616.9L758.6 616.2L760.0 615.4L761.4 614.7L762.7 613.9L764.1 613.1L765.5 612.2L766.8 611.4L768.2 610.5L769.6 609.6L770.9 608.7L772.3 607.8L773.7 606.9L775.0 605.9L776.4 604.9L777.8 603.9L779.0 603.0L780.2 602.1L781.4 601.2L782.6 600.2L783.8 599.3L785.0 598.3L786.3 597.2L787.5 596.2L788.6 595.2L789.7 594.3L790.9 593.3L792.0 592.2L793.1 591.2L794.3 590.1L795.4 589.1L796.6 588.0L797.7 586.9L798.9 585.8L800.0 584.7L801.2 583.6L802.4 582.4L803.5 581.3L804.7 580.1L805.9 578.9L807.0 577.7L808.2 576.5L809.2 575.4L810.3 574.2L811.3 573.0L812.4 571.8L813.4 570.6L814.5 569.4L815.5 568.2L816.5 566.9L817.6 565.7L818.6 564.5L819.6 563.3L820.7 562.1L821.7 560.9L822.7 559.6L823.7 558.4L824.7 557.2L825.7 556.0L826.8 554.8L827.8 553.5L828.8 552.3L829.8 551.0L830.9 549.7L832.0 548.4L833.2 547.0L834.3 545.6L835.3 544.3L836.4 543.1L837.3 541.9L838.2 540.8L839.0 539.8L840.5 538.0L841.6 536.7L842.5 535.6L843.5 534.2L844.3 533.1L845.2 531.9L846.0 530.6L846.9 529.3L847.8 528.0L848.8 526.6L849.6 525.3L850.6 524.0L851.6 522.7L852.7 521.3L853.7 519.9L854.7 518.5L855.6 517.2L856.5 515.9L857.2 514.7L858.0 513.4L858.8 512.2L859.7 510.9L860.6 509.7L861.6 508.5L862.6 507.1L863.6 505.7L864.6 504.3L865.7 503.0L866.8 501.6L868.0 500.2L869.1 498.8L869.9 497.4L870.7 496.0L871.3 494.6L872.1 493.2L873.1 491.8L874.2 490.6L875.3 489.3L876.4 488.0L877.4 486.7L878.2 485.4L879.0 484.2L879.8 482.9L880.7 481.7L881.6 480.4L882.5 479.2L883.3 478.0L883.9 476.7L884.4 475.5L885.0 474.2L885.8 472.9L886.8 471.5L888.1 470.1L889.5 468.7L890.7 467.3L891.6 466.0L892.3 464.8L893.0 463.5L893.7 462.3L894.6 461.1L895.6 460.0L896.6 458.8L897.6 457.6L898.5 456.3L899.4 454.9L900.3 453.5L901.4 452.1L902.7 450.7L904.3 449.2L905.5 447.9L906.6 446.7L907.3 445.4L907.9 444.0L908.5 442.7L909.2 441.4L910.1 440.0L911.2 438.6L912.3 437.2L913.3 435.8L914.2 434.4L915.0 432.9L915.9 431.4L916.9 429.9L917.9 428.5L918.6 427.1L919.0 425.6L919.2 424.1L919.2 422.6L919.6 421.0L920.3 419.5L921.3 418.0L922.3 416.5L923.1 414.9L923.7 413.3L924.2 411.8L924.8 410.2L925.6 408.7L926.3 407.2L926.8 405.8L927.2 404.3L927.5 402.8L928.0 401.4L928.7 400.1L929.8 398.7L931.0 397.4L932.1 396.0L933.1 394.6L933.9 393.2L934.5 391.9L935.3 390.5L936.1 389.1L937.1 387.8L938.0 386.5L939.0 385.1L939.8 383.7L940.6 382.3L941.5 381.0L942.6 379.5L943.9 378.0L945.1 376.6L946.0 375.0L946.5 373.4L946.7 371.8L946.9 370.1L947.4 368.5L948.1 367.0L949.0 365.3L949.5 363.5L949.9 361.8L950.4 360.2L951.1 358.6L952.0 357.0L952.7 355.5L953.2 354.0L953.5 352.5L953.7 351.1L954.1 349.8L954.8 348.5L956.0 347.2L957.5 346.0L958.9 344.9L960.2 343.8L961.3 342.5L962.1 341.1L962.8 339.5L963.6 337.9L964.5 336.4L965.3 335.0L966.1 333.4L966.8 332.0L967.5 330.7L968.3 329.5L969.6 328.3L971.0 327.3L972.5 326.3L974.2 325.1L975.7 323.9L976.6 323.0" stroke="#35be73"/>
</g>
<path class="ax" stroke-width="5" d="M111.00 710.50H118.00M104.50 673.97H118.00M111.00 637.45H118.00M104.50 600.92H118.00M111.00 564.39H118.00M104.50 527.87H118.00M111.00 491.34H118.00M104.50 454.82H118.00M111.00 418.29H118.00M104.50 381.76H118.00M111.00 345.24H118.00M104.50 308.71H118.00M111.00 272.18H118.00M104.50 235.66H118.00M111.00 199.13H118.00M104.50 162.61H118.00M111.00 126.08H118.00M104.50 89.55H118.00M111.00 53.03H118.00M104.50 16.50H118.00M118.00 710.50V724.00M189.42 710.50V717.00M260.83 710.50V724.00M332.25 710.50V717.00M403.67 710.50V724.00M475.08 710.50V717.00M546.50 710.50V724.00M617.92 710.50V717.00M689.33 710.50V724.00M760.75 710.50V717.00M832.17 710.50V724.00M903.58 710.50V717.00M975.00 710.50V724.00"/>
<rect class="ax" stroke-width="5" x="118.0" y="16.5" width="857.0" height="694.0"/>
<g class="t" text-anchor="end">
<text transform="translate(95.5 684.4) scale(1 1.04)">0</text>
<text transform="translate(95.5 611.3) scale(1 1.04)">2</text>
<text transform="translate(95.5 538.3) scale(1 1.04)">4</text>
<text transform="translate(95.5 465.2) scale(1 1.04)">6</text>
<text transform="translate(95.5 392.2) scale(1 1.04)">8</text>
<text transform="translate(95.5 319.1) scale(1 1.04)">10</text>
<text transform="translate(95.5 246.1) scale(1 1.04)">12</text>
<text transform="translate(95.5 173.0) scale(1 1.04)">14</text>
<text transform="translate(95.5 100.0) scale(1 1.04)">16</text>
<text transform="translate(95.5 26.9) scale(1 1.04)">18</text>
</g>
<g class="t" text-anchor="middle">
<text transform="translate(118.0 761.9) scale(1 1.04)">0.0</text>
<text transform="translate(260.8 761.9) scale(1 1.04)">0.2</text>
<text transform="translate(403.7 761.9) scale(1 1.04)">0.4</text>
<text transform="translate(546.5 761.9) scale(1 1.04)">0.6</text>
<text transform="translate(689.3 761.9) scale(1 1.04)">0.8</text>
<text transform="translate(832.2 761.9) scale(1 1.04)">1.0</text>
<text transform="translate(975.0 761.9) scale(1 1.04)">1.2</text>
</g>
<text text-anchor="middle" font-size="35.9" x="546.7" y="823.2">Potential / V vs. SCE</text>
<text font-size="39.4" transform="translate(39.6 603) rotate(-90)">Current density / mA cm<tspan font-size="27.5" dy="-16.6">-2</tspan></text>
<g class="c">
<path d="M204 107.3H284" stroke="#585858"/>
<path d="M204 152.7H284" stroke="#fd4848"/>
<path d="M204 198.1H284" stroke="#1770f2"/>
<path d="M204 243.5H284" stroke="#35be73"/>
</g>
<g font-size="36.5">
<text transform="translate(293.8 119.6) scale(1 1.04)">Ti</text>
<text transform="translate(293.8 165.0) scale(1 1.04)">Pt</text>
<text transform="translate(293.8 210.4) scale(1 1.04)">Au</text>
<text transform="translate(293.8 255.8) scale(1 1.04)">GC</text>
</g>
</svg></body></html>
